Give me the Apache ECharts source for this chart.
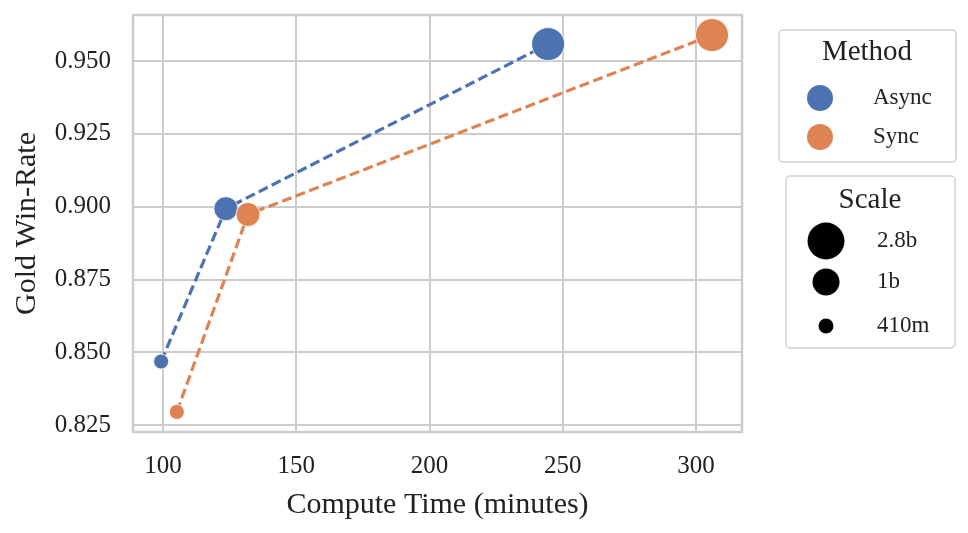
<!DOCTYPE html>
<html>
<head>
<meta charset="utf-8">
<script src="https://cdn.jsdelivr.net/npm/echarts@6/dist/echarts.min.js"></script>
<style>html,body{margin:0;padding:0;background:#fff;}#c{width:968px;height:533px;}</style>
</head>
<body>
<div id="c"></div>
<script>
// Data
const methods = ['Async', 'Sync'];
const asyncTime = [99.3, 123.6, 244.5];
const asyncWinRate = [0.8468, 0.8993, 0.9558];
const asyncScale = ['410m', '1b', '2.8b'];
const syncTime = [105.2, 131.9, 306.0];
const syncWinRate = [0.8295, 0.8973, 0.9589];
const syncScale = ['410m', '1b', '2.8b'];
const scaleLabels = ['2.8b', '1b', '410m'];
const xTicks = [100, 150, 200, 250, 300];
const yTicks = [0.825, 0.850, 0.875, 0.900, 0.925, 0.950];

// Styles
const colors = { Async: '#4c72b0', Sync: '#dd8452' };
const markerSize = { '410m': 15, '1b': 24, '2.8b': 33 };
const legendSize = { '410m': 15, '1b': 27, '2.8b': 37 };
const FONT = 'Liberation Serif';

function pts(t, w) { return t.map((x, i) => [x, w[i]]); }
function sdata(t, w, s) { return t.map((x, i) => ({ value: [x, w[i]], symbolSize: markerSize[s[i]] })); }

const chart = echarts.init(document.getElementById('c'), null, { renderer: 'canvas' });

const series = [
  { name: 'Async', type: 'line', data: pts(asyncTime, asyncWinRate), showSymbol: false, symbol: 'none', z: 2,
    lineStyle: { color: colors.Async, width: 3.2, type: [10, 4.5] }, itemStyle: { color: colors.Async } },
  { name: 'Sync', type: 'line', data: pts(syncTime, syncWinRate), showSymbol: false, symbol: 'none', z: 2,
    lineStyle: { color: colors.Sync, width: 3.2, type: [10, 4.5] }, itemStyle: { color: colors.Sync } },
  { name: 'Async', type: 'scatter', data: sdata(asyncTime, asyncWinRate, asyncScale), z: 3,
    itemStyle: { color: colors.Async, borderColor: '#fff', borderWidth: 0.8, opacity: 1 } },
  { name: 'Sync', type: 'scatter', data: sdata(syncTime, syncWinRate, syncScale), z: 4,
    itemStyle: { color: colors.Sync, borderColor: '#fff', borderWidth: 0.8, opacity: 1 } }
];
scaleLabels.forEach(s => series.push({ name: s, type: 'scatter', data: [], color: '#000', itemStyle: { color: '#000', opacity: 1 } }));

const legendText = { fontFamily: FONT, fontSize: 23, color: '#222' };
const legends = [
  { data: methods.map(m => ({ name: m, itemStyle: { color: colors[m] } })), orient: 'vertical', left: 807, top: 85,
    itemWidth: 26, itemHeight: 26, itemGap: 13, icon: 'circle',
    padding: 0, selectedMode: false, textStyle: Object.assign({ padding: [0, 0, 0, 35] }, legendText) }
];
const scaleRows = { '2.8b': 241, '1b': 282, '410m': 322 };
scaleLabels.forEach(s => {
  const d = legendSize[s];
  legends.push({ data: [{ name: s, itemStyle: { color: '#000', borderWidth: 0, opacity: 1 } }], orient: 'vertical',
    left: 826 - d / 2, top: scaleRows[s] - d / 2, itemWidth: d, itemHeight: d,
    icon: 'circle', padding: 0, selectedMode: false, itemStyle: { color: '#000', opacity: 1, borderWidth: 0 },
    textStyle: Object.assign({ padding: [0, 0, 0, 877 - (826 + d / 2) - 5] }, legendText) });
});

chart.setOption({
  animation: false,
  backgroundColor: '#fff',
  grid: { left: 133, right: 226, top: 15, bottom: 101, show: true, borderColor: '#cccccc', borderWidth: 2.5, containLabel: false },
  xAxis: {
    type: 'value', min: 88.75, max: 317.25,
    name: 'Compute Time (minutes)', nameLocation: 'middle', nameGap: 58,
    nameTextStyle: { fontFamily: FONT, fontSize: 30, color: '#222' },
    axisLine: { show: false }, axisTick: { show: false, customValues: xTicks },
    axisLabel: { customValues: xTicks, fontFamily: FONT, fontSize: 25, color: '#222', margin: 22 },
    splitLine: { show: true, lineStyle: { color: '#cccccc', width: 2 } }
  },
  yAxis: {
    type: 'value', min: 0.8226, max: 0.9658,
    name: 'Gold Win-Rate', nameLocation: 'middle', nameGap: 91,
    nameTextStyle: { fontFamily: FONT, fontSize: 30, color: '#222' },
    axisLine: { show: false }, axisTick: { show: false, customValues: yTicks },
    axisLabel: { customValues: yTicks, fontFamily: FONT, fontSize: 25, color: '#222', margin: 22,
      formatter: v => v.toFixed(3) },
    splitLine: { show: true, lineStyle: { color: '#cccccc', width: 2 } }
  },
  legend: legends,
  graphic: [
    { type: 'rect', shape: { x: 779, y: 30, width: 177, height: 132, r: 4 }, style: { fill: '#fff', stroke: '#d0d0d0', lineWidth: 1.5 }, z: -1 },
    { type: 'text', x: 867, y: 52, style: { text: 'Method', font: '29px "Liberation Serif"', fill: '#222', align: 'center', verticalAlign: 'middle' } },
    { type: 'rect', shape: { x: 786, y: 176, width: 169, height: 172, r: 4 }, style: { fill: '#fff', stroke: '#d0d0d0', lineWidth: 1.5 }, z: -1 },
    { type: 'text', x: 870, y: 200, style: { text: 'Scale', font: '29px "Liberation Serif"', fill: '#222', align: 'center', verticalAlign: 'middle' } }
  ],
  series: series
});
</script>
</body>
</html>
